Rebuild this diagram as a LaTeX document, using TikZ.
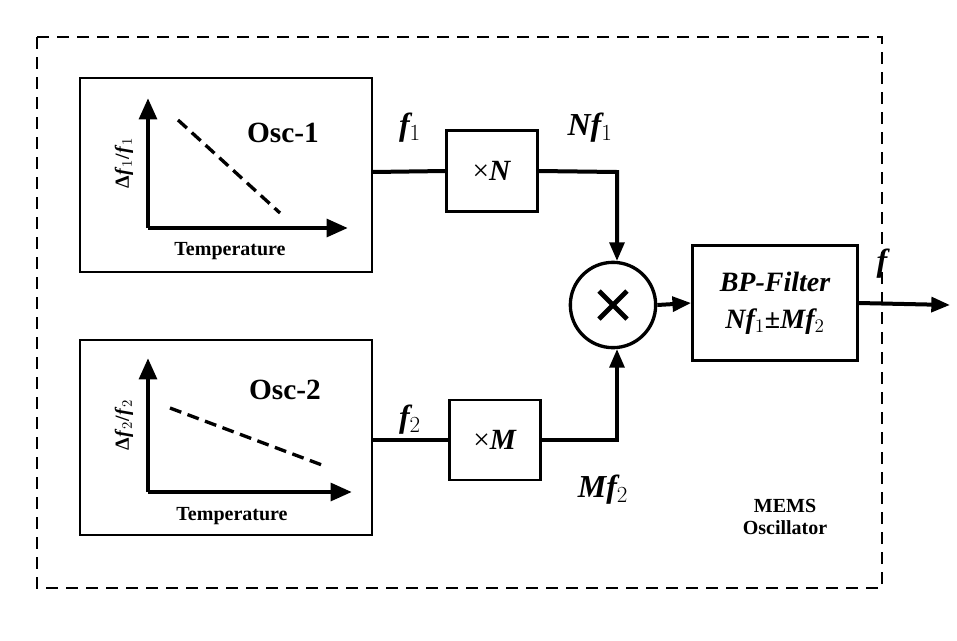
\documentclass[tikz,border=0pt]{standalone}
\usepackage{fontspec}
\setmainfont{Liberation Serif}
\usetikzlibrary{arrows.meta,calc}
\begin{document}
\begin{tikzpicture}[x=0.75pt,y=-0.75pt,
  box/.style={draw,line width=1.8pt},
  wire/.style={line width=3pt},
  arr/.style={wire,-{Triangle[length=14pt,width=11pt]}},
  axis/.style={line width=3.5pt,-{Triangle[length=16pt,width=13pt]}},
  big/.style={font=\fontsize{22}{24}\selectfont\bfseries},
  lab/.style={font=\fontsize{24}{26}\selectfont\bfseries\itshape},
  small/.style={font=\fontsize{15}{17}\selectfont\bfseries}]
\useasboundingbox (0,0) rectangle (957,640);
\draw[line width=1.8pt,dash pattern=on 9pt off 6pt] (37,37) rectangle (882,588);
% Osc-1
\draw[box] (80,78) rectangle (372,272);
\coordinate (o1) at (148,228);
\draw[axis] (o1) -- (148,98);
\draw[axis] (o1) -- (348,228);
\draw[line width=2.5pt,dash pattern=on 9pt off 5pt] (178,120) -- (280,213);
\node[big] (osc1) at (283,133) {Osc-1};
\node[small,rotate=90] (d1) at (124,163) {Δ\textit{f}$_1$/\textit{f}$_1$};
\node[small] (t1) at (230,251) {Temperature};
% Osc-2
\draw[box] (80,340) rectangle (372,535);
\coordinate (o2) at (148,492);
\draw[axis] (o2) -- (148,358);
\draw[axis] (o2) -- (352,492);
\draw[line width=2.5pt,dash pattern=on 9pt off 5pt] (170,408) -- (322,465);
\node[big] (osc2) at (285,390) {Osc-2};
\node[small,rotate=90] (d2) at (124,425) {Δ\textit{f}$_2$/\textit{f}$_2$};
\node[small] (t2) at (232,516) {Temperature};
% multipliers
\node[box,inner sep=0pt,minimum width=68pt,minimum height=61pt,font=\fontsize{22}{24}\selectfont] (N) at (492,171) {×\textbf{\textit{N}}};
\node[box,inner sep=0pt,minimum width=68pt,minimum height=60pt,font=\fontsize{22}{24}\selectfont] (M) at (495,440) {×\textbf{\textit{M}}};
\node[draw,circle,line width=2.5pt,minimum size=64pt,inner sep=0pt] (mix) at (613,305) {};
\draw[line width=3.5pt] ($(mix.center)+(-14,-14)$) -- ($(mix.center)+(14,14)$) ($(mix.center)+(-14,14)$) -- ($(mix.center)+(14,-14)$);
\node[box,minimum width=124pt,minimum height=86pt,inner sep=0pt,align=center,font=\fontsize{21}{28}\selectfont\bfseries\itshape] (bp) at (775,303) {BP-Filter\\Nf$_1$±Mf$_2$};
\coordinate (out) at (950,305);
\draw[wire] (372,172) -- (N.west);
\draw[arr] (N.east) -- (617,172) -- (617,261);
\draw[wire] (372,440) -- (M.west);
\draw[arr] (M.east) -- (617,440) -- (617,349);
\draw[arr] (mix.east) -- (bp.west);
\draw[arr] (bp.east) -- (out);
\node[lab] (lf1) at (410,128) {f$_1$};
\node[lab] (lnf1) at (590,128) {Nf$_1$};
\node[lab] (lf2) at (410,420) {f$_2$};
\node[lab] (lmf2) at (603,490) {Mf$_2$};
\node[lab] (lf) at (882,264) {f};
\node[small,align=center] (mems) at (785,517) {MEMS\\Oscillator};
\end{tikzpicture}
\end{document}
